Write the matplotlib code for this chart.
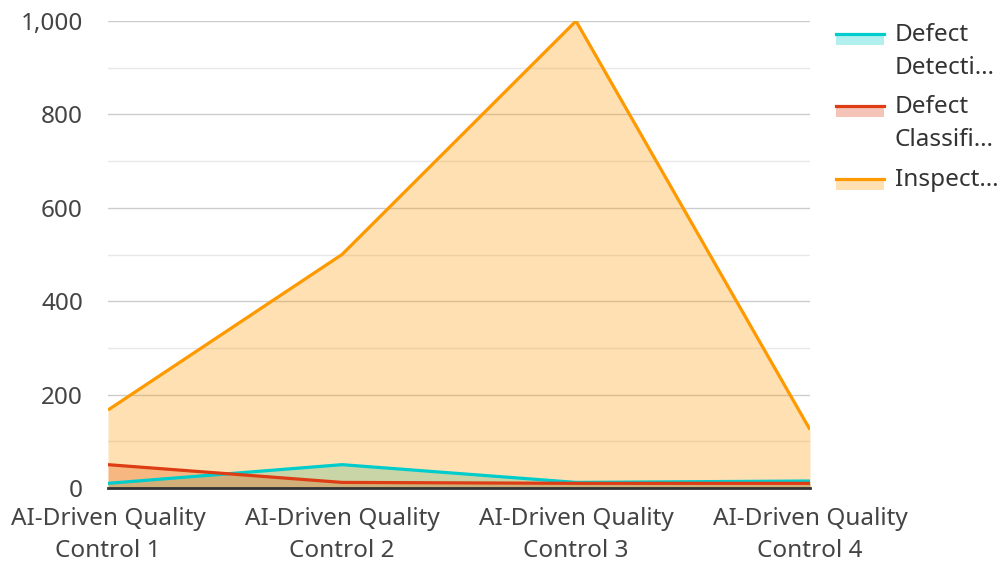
import matplotlib.pyplot as plt
from matplotlib.lines import Line2D
from matplotlib.patches import Rectangle
from matplotlib.ticker import MultipleLocator, FuncFormatter

plt.rcParams['font.family'] = ['Noto Sans', 'DejaVu Sans']

categories = ['AI-Driven Quality\nControl 1', 'AI-Driven Quality\nControl 2',
              'AI-Driven Quality\nControl 3', 'AI-Driven Quality\nControl 4']
series_names = ['Defect\nDetecti…', 'Defect\nClassifi…', 'Inspect…']
defect_detection = [10, 50, 12, 15]
defect_classification = [50, 12, 10, 10]
inspection = [167, 500, 1000, 125]
colors = ['#00CCCC', '#DD3C14', '#FF9900']

fig = plt.figure(figsize=(10, 5.63), dpi=100)
ax = fig.add_axes([0.108, 0.1332, 0.702, 0.8295])
x = list(range(len(categories)))

all_series = [defect_detection, defect_classification, inspection]
for vals, c in zip(all_series, colors):
    ax.fill_between(x, 0, vals, color=c, alpha=0.3, linewidth=0, zorder=2)
for vals, c in zip([inspection, defect_detection, defect_classification],
                   [colors[2], colors[0], colors[1]]):
    ax.plot(x, vals, color=c, linewidth=2.3, zorder=3, solid_capstyle='butt')

ax.set_xlim(0, 3)
ax.set_ylim(0, 1000)
ax.yaxis.set_major_locator(MultipleLocator(200))
ax.yaxis.set_minor_locator(MultipleLocator(100))
ax.yaxis.set_major_formatter(FuncFormatter(lambda v, p: f'{int(v):,}'))
ax.grid(axis='y', which='major', color='#cccccc', linewidth=1, zorder=0)
ax.grid(axis='y', which='minor', color='#e8e8e8', linewidth=1, zorder=0)
ax.set_axisbelow(True)
ax.set_xticks(x)
ax.set_xticklabels(categories, linespacing=1.42)
ax.tick_params(axis='both', which='both', length=0, labelsize=17.5, labelcolor='#444444')
ax.tick_params(axis='y', pad=18)
ax.tick_params(axis='x', pad=14)
for s in ['top', 'right', 'left']:
    ax.spines[s].set_visible(False)
ax.spines['bottom'].set_color('#333333')
ax.spines['bottom'].set_linewidth(2)
ax.spines['bottom'].set_zorder(4)

# legend drawn by hand in pixel space
W, H = 1000, 563
legend_rows = [34, 106, 179]
for name, c, top in zip(series_names, colors, legend_rows):
    fig.add_artist(Rectangle((836 / W, 1 - (top + 11) / H), 48 / W, 11 / H,
                             transform=fig.transFigure, color=c, alpha=0.3, linewidth=0))
    fig.add_artist(Line2D([836 / W, 884 / W], [1 - top / H] * 2,
                          transform=fig.transFigure, color=c, linewidth=2.3))
    for i, line in enumerate(name.split('\n')):
        fig.text(895 / W, 1 - (top + 1 + 33 * i) / H, line, ha='left', va='center',
                 fontsize=17.5, color='#333333')

fig.savefig('out.png', dpi=100)
